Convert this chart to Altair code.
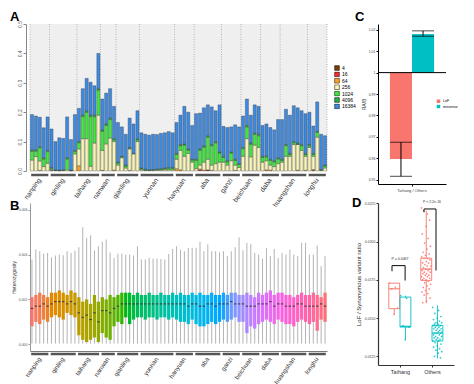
import math
import altair as alt
import pandas as pd

GROUPS = ["nanping", "qinling", "taihang", "nanwan", "qianling", "yunnan",
          "hanyuan", "aba", "ganzi", "beichuan", "daba", "huangshan", "longhu"]

# ---------------- Panel A : stacked proportions per individual ----------------
A_TOTAL = {
    "nanping": [0.192, 0.187, 0.183, 0.147, 0.184],
    "qinling": [0.143, 0.100, 0.113, 0.111, 0.184, 0.107, 0.192],
    "taihang": [0.213, 0.280, 0.315, 0.302, 0.290, 0.400],
    "nanwan": [0.245, 0.265, 0.280, 0.220],
    "qianling": [0.165, 0.150, 0.125, 0.180, 0.160, 0.205],
    "yunnan": [0.130, 0.125, 0.122, 0.125, 0.124, 0.128, 0.130, 0.134, 0.130],
    "hanyuan": [0.165, 0.190, 0.220, 0.200, 0.155],
    "aba": [0.195, 0.197, 0.215, 0.225, 0.218, 0.205, 0.225],
    "ganzi": [0.152, 0.148, 0.150, 0.157, 0.150],
    "beichuan": [0.187, 0.245, 0.190, 0.225, 0.220],
    "daba": [0.155, 0.160, 0.148, 0.140, 0.175],
    "huangshan": [0.175, 0.210, 0.190, 0.222, 0.215, 0.205, 0.195],
    "longhu": [0.200, 0.153, 0.235, 0.125, 0.120],
}
A_GREEN = {  # top of the 4096 layer
    "nanping": [0.071, 0.072, 0.083, 0.045, 0.070],
    "qinling": [0.012, 0.004, 0.003, 0.004, 0.045, 0.003, 0.070],
    "taihang": [0.100, 0.190, 0.205, 0.190, 0.190, 0.280],
    "nanwan": [0.140, 0.160, 0.180, 0.110],
    "qianling": [0.030, 0.050, 0.020, 0.080, 0.060, 0.110],
    "yunnan": [0.010, 0.006, 0.004, 0.005, 0.006, 0.008, 0.010, 0.012, 0.012],
    "hanyuan": [0.060, 0.090, 0.092, 0.075, 0.040],
    "aba": [0.040, 0.075, 0.085, 0.120, 0.090, 0.100, 0.065],
    "ganzi": [0.050, 0.035, 0.065, 0.040, 0.025],
    "beichuan": [0.080, 0.155, 0.095, 0.130, 0.125],
    "daba": [0.050, 0.052, 0.040, 0.035, 0.045],
    "huangshan": [0.040, 0.090, 0.060, 0.100, 0.095, 0.090, 0.060],
    "longhu": [0.090, 0.060, 0.135, 0.005, 0.020],
}
A_YELLOW = {  # top of the 256 layer
    "nanping": [0.037, 0.049, 0.034, 0.015, 0.026],
    "qinling": [0.004, 0.002, 0.001, 0.002, 0.004, 0.001, 0.058],
    "taihang": [0.075, 0.110, 0.110, 0.016, 0.095, 0.190],
    "nanwan": [0.070, 0.092, 0.112, 0.100],
    "qianling": [0.020, 0.045, 0.010, 0.075, 0.058, 0.100],
    "yunnan": [0.004, 0.002, 0.002, 0.002, 0.003, 0.003, 0.004, 0.004, 0.004],
    "hanyuan": [0.040, 0.070, 0.050, 0.060, 0.030],
    "aba": [0.008, 0.020, 0.030, 0.040, 0.020, 0.025, 0.030],
    "ganzi": [0.030, 0.020, 0.035, 0.020, 0.012],
    "beichuan": [0.050, 0.110, 0.048, 0.088, 0.080],
    "daba": [0.030, 0.035, 0.020, 0.015, 0.025],
    "huangshan": [0.030, 0.050, 0.050, 0.090, 0.090, 0.070, 0.050],
    "longhu": [0.080, 0.050, 0.115, 0.002, 0.010],
}
A_S4096 = {
    "nanping": [0.004, 0.004, 0.004, 0.004, 0.004],
    "qinling": [0.003, 0.001, 0.001, 0.001, 0.004, 0.001, 0.004],
    "taihang": [0.004, 0.005, 0.005, 0.005, 0.005, 0.005],
    "nanwan": [0.005, 0.005, 0.005, 0.004],
    "qianling": [0.003, 0.002, 0.003, 0.003, 0.002, 0.004],
    "yunnan": [0.002, 0.002, 0.001, 0.001, 0.001, 0.002, 0.002, 0.003, 0.003],
    "hanyuan": [0.004, 0.004, 0.004, 0.004, 0.003],
    "aba": [0.004, 0.004, 0.004, 0.005, 0.004, 0.004, 0.004],
    "ganzi": [0.004, 0.004, 0.004, 0.004, 0.003],
    "beichuan": [0.004, 0.005, 0.004, 0.005, 0.005],
    "daba": [0.004, 0.004, 0.004, 0.004, 0.004],
    "huangshan": [0.004, 0.004, 0.004, 0.004, 0.004, 0.004, 0.004],
    "longhu": [0.004, 0.004, 0.004, 0.001, 0.003],
}
A_S64 = {
    "nanping": [0, 0, 0.002, 0, 0],
    "qinling": [0, 0, 0, 0, 0, 0, 0],
    "taihang": [0.018, 0, 0, 0, 0, 0],
    "nanwan": [0, 0, 0, 0.003],
    "qianling": [0, 0, 0, 0.002, 0, 0],
    "yunnan": [0, 0, 0, 0, 0, 0, 0, 0, 0],
    "hanyuan": [0.008, 0.004, 0, 0, 0],
    "aba": [0, 0.004, 0.003, 0, 0.002, 0, 0],
    "ganzi": [0, 0, 0, 0.002, 0],
    "beichuan": [0, 0, 0, 0, 0],
    "daba": [0, 0.004, 0.003, 0, 0],
    "huangshan": [0, 0, 0, 0, 0.003, 0, 0.002],
    "longhu": [0, 0.003, 0, 0, 0],
}
A_S16 = {
    "nanping": [0, 0, 0, 0, 0],
    "qinling": [0, 0, 0, 0, 0, 0, 0],
    "taihang": [0, 0, 0, 0, 0, 0],
    "nanwan": [0, 0, 0, 0],
    "qianling": [0, 0, 0, 0, 0, 0],
    "yunnan": [0, 0, 0, 0, 0, 0, 0, 0, 0],
    "hanyuan": [0, 0, 0, 0, 0],
    "aba": [0, 0.003, 0, 0.002, 0, 0, 0],
    "ganzi": [0, 0, 0, 0, 0],
    "beichuan": [0, 0, 0, 0, 0],
    "daba": [0, 0, 0, 0, 0],
    "huangshan": [0, 0, 0, 0, 0, 0, 0],
    "longhu": [0, 0, 0, 0, 0],
}
A_S4 = {
    "nanping": [0, 0, 0, 0, 0],
    "qinling": [0.002, 0, 0, 0, 0, 0, 0],
    "taihang": [0, 0, 0, 0, 0, 0],
    "nanwan": [0.002, 0, 0, 0],
    "qianling": [0, 0, 0, 0, 0, 0],
    "yunnan": [0, 0, 0, 0, 0, 0, 0, 0, 0],
    "hanyuan": [0, 0, 0, 0, 0],
    "aba": [0, 0, 0, 0.002, 0, 0, 0],
    "ganzi": [0, 0, 0, 0, 0],
    "beichuan": [0, 0, 0, 0, 0],
    "daba": [0, 0, 0, 0, 0],
    "huangshan": [0, 0, 0, 0, 0, 0, 0],
    "longhu": [0, 0.002, 0, 0, 0],
}
CLASSES = ["4", "16", "64", "256", "1024", "4096", "16384"]
CLASS_COLORS = ["#7B3F00", "#F03030", "#FFA020", "#F8F4B8", "#3FE83F", "#22B244", "#3D8AE2"]

# ---------------- Panel B : heterozygosity boxes per individual ----------------
B_HI = {
    "nanping": [0.00378, 0.00422, 0.00415, 0.00404, 0.00407],
    "qinling": [0.00388, 0.00396, 0.00400, 0.00397, 0.00415, 0.00407, 0.00418],
    "taihang": [0.00433, 0.00522, 0.00475, 0.00486, 0.00418, 0.00437],
    "nanwan": [0.00457, 0.00467, 0.00410, 0.00385],
    "qianling": [0.00404, 0.00404, 0.00400, 0.00400, 0.00396, 0.00437],
    "yunnan": [0.00378, 0.00378, 0.00385, 0.00382, 0.00382, 0.00380, 0.00378, 0.00403, 0.00425],
    "hanyuan": [0.00437, 0.00422, 0.00415, 0.00430, 0.00430],
    "aba": [0.00430, 0.00457, 0.00415, 0.00445, 0.00415, 0.00415, 0.00410],
    "ganzi": [0.00415, 0.00393, 0.00415, 0.00433, 0.00477],
    "beichuan": [0.00419, 0.00452, 0.00448, 0.00407, 0.00400],
    "daba": [0.00382, 0.00430, 0.00393, 0.00425, 0.00385],
    "huangshan": [0.00407, 0.00400, 0.00422, 0.00400, 0.00393, 0.00452, 0.00452],
    "longhu": [0.00400, 0.00400, 0.00440, 0.00348, 0.00393],
}
B_Q3 = {
    "nanping": [0.0021, 0.0022, 0.0023, 0.0022, 0.0021],
    "qinling": [0.0023, 0.0023, 0.0024, 0.0023, 0.0022, 0.0024, 0.0023],
    "taihang": [0.0021, 0.0019, 0.0020, 0.0018, 0.0022, 0.0019],
    "nanwan": [0.0021, 0.0020, 0.0022, 0.0021],
    "qianling": [0.0022, 0.0023, 0.0023, 0.0023, 0.0022, 0.0023],
    "yunnan": [0.0022, 0.0022, 0.0023, 0.0022, 0.0022, 0.0023, 0.0022, 0.0022, 0.0023],
    "hanyuan": [0.0022, 0.0023, 0.0022, 0.0022, 0.0023],
    "aba": [0.0022, 0.0023, 0.0022, 0.0022, 0.0023, 0.0022, 0.0022],
    "ganzi": [0.0023, 0.0022, 0.0023, 0.0023, 0.0022],
    "beichuan": [0.0022, 0.0023, 0.0022, 0.0021, 0.0023],
    "daba": [0.0022, 0.0023, 0.0024, 0.0022, 0.0023],
    "huangshan": [0.0023, 0.0022, 0.0022, 0.0021, 0.0022, 0.0023, 0.0022],
    "longhu": [0.0022, 0.0023, 0.0022, 0.0021, 0.0023],
}
B_MED = {
    "nanping": [0.0016, 0.0017, 0.0017, 0.0018, 0.0017],
    "qinling": [0.0018, 0.0019, 0.0019, 0.0019, 0.0018, 0.0019, 0.0018],
    "taihang": [0.0014, 0.0012, 0.0013, 0.0011, 0.0014, 0.0010],
    "nanwan": [0.0015, 0.0015, 0.0014, 0.0016],
    "qianling": [0.0017, 0.0018, 0.0018, 0.0018, 0.0018, 0.0018],
    "yunnan": [0.0018, 0.0018, 0.0018, 0.0018, 0.0018, 0.0018, 0.0018, 0.0018, 0.0018],
    "hanyuan": [0.0018, 0.0018, 0.0018, 0.0017, 0.0018],
    "aba": [0.0018, 0.0017, 0.0017, 0.0018, 0.0018, 0.0017, 0.0018],
    "ganzi": [0.0018, 0.0018, 0.0019, 0.0018, 0.0018],
    "beichuan": [0.0018, 0.0017, 0.0017, 0.0017, 0.0018],
    "daba": [0.0018, 0.0018, 0.0019, 0.0017, 0.0018],
    "huangshan": [0.0018, 0.0017, 0.0017, 0.0017, 0.0018, 0.0018, 0.0017],
    "longhu": [0.0017, 0.0017, 0.0017, 0.0018, 0.0017],
}
B_Q1 = {
    "nanping": [0.0008, 0.0010, 0.0009, 0.0011, 0.0010],
    "qinling": [0.0012, 0.0013, 0.0012, 0.0011, 0.0014, 0.0013, 0.0012],
    "taihang": [0.0004, 0.0002, 0.0001, 0.0002, 0.0003, 0.0001],
    "nanwan": [0.0005, 0.0003, 0.0002, 0.0008],
    "qianling": [0.0010, 0.0009, 0.0012, 0.0009, 0.0011, 0.0012],
    "yunnan": [0.0012, 0.0011, 0.0012, 0.0012, 0.0011, 0.0012, 0.0012, 0.0011, 0.0012],
    "hanyuan": [0.0011, 0.0010, 0.0010, 0.0009, 0.0011],
    "aba": [0.0009, 0.0008, 0.0008, 0.0009, 0.0010, 0.0009, 0.0010],
    "ganzi": [0.0011, 0.0010, 0.0011, 0.0012, 0.0010],
    "beichuan": [0.0010, 0.0005, 0.0008, 0.0007, 0.0009],
    "daba": [0.0010, 0.0011, 0.0010, 0.0009, 0.0011],
    "huangshan": [0.0010, 0.0009, 0.0009, 0.0008, 0.0010, 0.0011, 0.0010],
    "longhu": [0.0009, 0.0010, 0.0006, 0.0011, 0.0010],
}
B_LO = 0.00003

# ---------------- Panel C : RA/B ----------------
C_TYPES = ["LoF", "missense"]
C_VALUE = [0.9597, 1.0180]
C_LOW = [0.9516, 1.0170]
C_HIGH = [0.9675, 1.0195]

# ---------------- Panel D : LoF / synonymous ratio ----------------
D_CATS = ["Taihang", "Others"]
D_TYPES = ["non-homozygous", "homozygous"]
D_BOX = {  # (lo, q1, median, q3, hi)
    ("Taihang", "non-homozygous"): [0.01524, 0.01561, 0.01691, 0.01728, 0.01728],
    ("Taihang", "homozygous"): [0.01359, 0.01441, 0.01446, 0.01637, 0.01646],
    ("Others", "non-homozygous"): [0.01598, 0.01746, 0.01820, 0.01891, 0.02202],
    ("Others", "homozygous"): [0.01235, 0.01350, 0.01402, 0.01452, 0.01583],
}
D_POINTS = {
    ("Taihang", "non-homozygous"): [0.01728, 0.01700, 0.01690, 0.01565, 0.01524],
    ("Taihang", "homozygous"): [0.01646, 0.01630, 0.01450, 0.01440, 0.01359],
    ("Others", "non-homozygous"): [
        0.0222, 0.0218, 0.0220, 0.0214, 0.0210, 0.0205, 0.0202, 0.0199, 0.0197, 0.0195,
        0.0193, 0.0192, 0.0191, 0.0190, 0.0189, 0.0189, 0.0188, 0.0187, 0.0186, 0.0186,
        0.0185, 0.0184, 0.0184, 0.0183, 0.0182, 0.0182, 0.0181, 0.0181, 0.0180, 0.0180,
        0.0179, 0.0179, 0.0178, 0.0178, 0.0177, 0.0177, 0.0176, 0.0176, 0.0175, 0.0175,
        0.0174, 0.0173, 0.0172, 0.0171, 0.0170, 0.0169, 0.0168, 0.0167, 0.0166, 0.0165,
        0.0163, 0.0161, 0.0160],
    ("Others", "homozygous"): [
        0.0157, 0.0155, 0.0153, 0.0151, 0.0150, 0.0149, 0.0148, 0.0147, 0.0147, 0.0146,
        0.0146, 0.0145, 0.0145, 0.0145, 0.0144, 0.0144, 0.0143, 0.0143, 0.0143, 0.0142,
        0.0142, 0.0141, 0.0141, 0.0140, 0.0140, 0.0140, 0.0139, 0.0139, 0.0138, 0.0138,
        0.0137, 0.0137, 0.0136, 0.0136, 0.0135, 0.0135, 0.0134, 0.0133, 0.0132, 0.0131,
        0.0130, 0.0129, 0.0128, 0.0127, 0.0125, 0.0124],
}
D_SIG = [("P = 0.0467", 1, 0.01843), ("P < 2.2e-16", 2, 0.02213)]

PAL2 = ["#F8766D", "#00BFC4"]
FONT = "Liberation Sans"


def hcl_hex(h, c=100.0, l=65.0):
    hr = math.radians(h)
    U, V = c * math.cos(hr), c * math.sin(hr)
    Xn, Yn, Zn = 95.047, 100.0, 108.883
    Y = Yn * ((l + 16) / 116) ** 3 if l > 8 else Yn * l / 903.3
    den = Xn + 15 * Yn + 3 * Zn
    un, vn = 4 * Xn / den, 9 * Yn / den
    u, v = U / (13 * l) + un, V / (13 * l) + vn
    X = 9.0 * Y * u / (4 * v)
    Z = -X / 3 - 5 * Y + 3 * Y / v
    X, Y, Z = X / 100, Y / 100, Z / 100
    rgb = [3.240479 * X - 1.537150 * Y - 0.498535 * Z,
           -0.969256 * X + 1.875992 * Y + 0.041556 * Z,
           0.055648 * X - 0.204043 * Y + 1.057311 * Z]
    out = []
    for ch in rgb:
        ch = 1.055 * ch ** (1 / 2.4) - 0.055 if ch > 0.0031308 else 12.92 * ch
        out.append(int(round(min(1, max(0, ch)) * 255)))
    return "#%02x%02x%02x" % tuple(out)


# ---------------- build tables ----------------
a_rows, b_rows, grp_rows = [], [], []
i = 0
for g in GROUPS:
    start = i
    for k in range(len(A_TOTAL[g])):
        s4, s16, s64 = A_S4[g][k], A_S16[g][k], A_S64[g][k]
        s256 = A_YELLOW[g][k] - s4 - s16 - s64
        s4096 = A_S4096[g][k]
        s1024 = max(0.0, A_GREEN[g][k] - A_YELLOW[g][k] - s4096)
        s16384 = A_TOTAL[g][k] - A_GREEN[g][k]
        base = 0.0
        for cls, h in zip(CLASSES, [s4, s16, s64, s256, s1024, s4096, s16384]):
            if h > 0:
                a_rows.append(dict(x0=i + 0.1, x1=i + 0.9, y0=base, y1=base + h, cls=cls))
                base += h
        b_rows.append(dict(idx=i, x0=i + 0.08, x1=i + 0.92, xm=i + 0.5, xa=i + 0.2, xb=i + 0.8,
                           lo=B_LO, q1=B_Q1[g][k], med=B_MED[g][k], q3=B_Q3[g][k], hi=B_HI[g][k]))
        i += 1
    grp_rows.append(dict(g=g, s=start + 0.3, e=i - 0.3, c=(start + i) / 2, b=start))
N = i
a_df = pd.DataFrame(a_rows)
b_df = pd.DataFrame(b_rows)
grp_df = pd.DataFrame(grp_rows)
sep_df = pd.DataFrame({"b": list(grp_df["b"]) + [N]})
HUES = [hcl_hex(15 + 360 * k / N) for k in range(N)]

WL, HA, HB = 297, 147, 148
WC, HC = 68, 160
WD, HD = 76, 162


def letter(t, x, y):
    return alt.Chart(pd.DataFrame({"t": [t]})).mark_text(
        fontSize=13, fontWeight="bold", align="left", baseline="top", color="black"
    ).encode(text="t:N", x=alt.value(x), y=alt.value(y))


# ---------------- Panel A ----------------
xA = alt.Scale(domain=[0, N], nice=False, zero=False)
yA = alt.Scale(domain=[0, 0.5], nice=False, zero=False)
axA = alt.Axis(values=[0, 0.1, 0.2, 0.3, 0.4, 0.5], format=".1f", labelAngle=270,
               labelAlign="center", labelBaseline="bottom", labelFontSize=5, labelColor="#555",
               tickSize=3, tickColor="#888", domainColor="#888", grid=False, title=None,
               offset=4, labelPadding=1)
bgA = alt.Chart(pd.DataFrame({"x0": [0], "x1": [N], "y0": [0.0], "y1": [0.5]})).mark_rect(
    color="#EFEFEF").encode(x=alt.X("x0:Q", scale=xA, axis=None), x2="x1:Q",
                            y=alt.Y("y0:Q", scale=yA, axis=axA), y2="y1:Q")
sepA = alt.Chart(sep_df).mark_rule(color="#9A9A9A", strokeDash=[1, 1.5], strokeWidth=0.7).encode(
    x=alt.X("b:Q", scale=xA, axis=None))
barsA = alt.Chart(a_df).mark_rect(stroke="#333333", strokeWidth=0.35).encode(
    x=alt.X("x0:Q", scale=xA, axis=None), x2="x1:Q",
    y=alt.Y("y0:Q", scale=yA, axis=axA), y2="y1:Q",
    color=alt.Color("cls:N", scale=alt.Scale(domain=CLASSES, range=CLASS_COLORS),
                    legend=alt.Legend(orient="none", legendX=304, legendY=41, title=None,
                                      labelFontSize=5, symbolType="square", symbolSize=22,
                                      symbolStrokeColor="black", symbolStrokeWidth=0.5,
                                      rowPadding=0.4, clipHeight=6, labelOffset=2)))
ulA = alt.Chart(grp_df).mark_rule(color="#555555", strokeWidth=2.5).encode(
    x=alt.X("s:Q", scale=xA, axis=None), x2="e:Q", y=alt.value(HA + 4))
lbA = alt.Chart(grp_df).mark_text(angle=305, align="right", baseline="middle", fontSize=6.8,
                                  color="#333333").encode(
    x=alt.X("c:Q", scale=xA, axis=None), y=alt.value(HA + 8), text="g:N")
A = alt.layer(bgA, sepA, barsA, ulA, lbA, letter("A", -20, -13)).properties(width=WL, height=HA)

# ---------------- Panel B ----------------
xB = alt.Scale(domain=[0, N], nice=False, zero=False)
yB = alt.Scale(domain=[-0.0003, 0.0063], nice=False, zero=False)
axBx = alt.Axis(labels=False, ticks=False, title=None, domainColor="#777", grid=False)
axBy = alt.Axis(values=[0, 0.002, 0.004, 0.006], format=".3f", labelFontSize=3.5,
                labelColor="#555", title="Heterozygosity", titleFontSize=5,
                titleFontWeight="normal", titleColor="#333", domainColor="#999",
                tickColor="#999", tickSize=2, grid=False, labelPadding=1, titlePadding=2)
whB = alt.Chart(b_df).mark_rule(color="#A0A0A0", strokeWidth=0.8).encode(
    x=alt.X("xm:Q", scale=xB, axis=axBx), y=alt.Y("lo:Q", scale=yB, axis=axBy), y2="hi:Q")
boxB = alt.Chart(b_df).mark_rect().encode(
    x=alt.X("x0:Q", scale=xB, axis=axBx), x2="x1:Q",
    y=alt.Y("q1:Q", scale=yB, axis=axBy), y2="q3:Q",
    color=alt.Color("idx:O", scale=alt.Scale(domain=list(range(N)), range=HUES), legend=None))
medB = alt.Chart(b_df).mark_rule(color="#333333", strokeWidth=1).encode(
    x=alt.X("xa:Q", scale=xB, axis=axBx), x2="xb:Q", y=alt.Y("med:Q", scale=yB, axis=axBy))
ulB = alt.Chart(grp_df).mark_rule(color="#555555", strokeWidth=2.5).encode(
    x=alt.X("s:Q", scale=xB, axis=axBx), x2="e:Q", y=alt.value(HB + 3))
lbB = alt.Chart(grp_df).mark_text(angle=305, align="right", baseline="middle", fontSize=6.3,
                                  color="#333333").encode(
    x=alt.X("c:Q", scale=xB, axis=axBx), y=alt.value(HB + 7), text="g:N")
B = alt.layer(whB, boxB, medB, ulB, lbB, letter("B", -20, -3)).properties(width=WL, height=HB)

# ---------------- Panel C ----------------
c_df = pd.DataFrame({"type": C_TYPES, "cmp": "Taihang / Others", "value": C_VALUE,
                     "lo": C_LOW, "hi": C_HIGH, "base": 1.0})
cap_df = pd.concat([c_df.assign(cap=c_df["lo"]), c_df.assign(cap=c_df["hi"])])
xC = alt.Scale(paddingOuter=0.27, paddingInner=0)
xoC = alt.Scale(domain=C_TYPES, paddingInner=0, paddingOuter=0)
yC = alt.Scale(domain=[0.948, 1.0227], nice=False, zero=False)
axCx = alt.Axis(title=None, labelAngle=0, labelFontSize=4, labelColor="#444",
                domainColor="black", tickColor="black", tickSize=2, grid=False)
axCy = alt.Axis(values=[0.95, 0.96, 0.97, 0.98, 0.99, 1.0, 1.01, 1.02],
                labelExpr="datum.value == 1 ? '1' : format(datum.value, '.2f')",
                labelFontSize=3.5, labelColor="#444", title="RA/B", titleFontSize=5,
                titleFontWeight="normal", titleColor="#222", domainColor="black",
                tickColor="black", tickSize=2, grid=False, labelPadding=1, titlePadding=2)
barC = alt.Chart(c_df).mark_bar().encode(
    x=alt.X("cmp:N", scale=xC, axis=axCx), xOffset=alt.XOffset("type:N", scale=xoC),
    y=alt.Y("value:Q", scale=yC, axis=axCy), y2="base:Q",
    color=alt.Color("type:N", scale=alt.Scale(domain=C_TYPES, range=PAL2),
                    legend=alt.Legend(orient="none", legendX=58, legendY=75, title=None,
                                      labelFontSize=3.5, symbolType="square", symbolSize=12,
                                      rowPadding=0.3, clipHeight=4.5, labelOffset=2)))
errC = alt.Chart(c_df).mark_rule(color="black", strokeWidth=1).encode(
    x=alt.X("cmp:N", scale=xC, axis=axCx), xOffset=alt.XOffset("type:N", scale=xoC),
    y=alt.Y("lo:Q", scale=yC, axis=axCy), y2="hi:Q")
capC = alt.Chart(cap_df).mark_tick(color="black", thickness=1, size=22).encode(
    x=alt.X("cmp:N", scale=xC, axis=axCx), xOffset=alt.XOffset("type:N", scale=xoC),
    y=alt.Y("cap:Q", scale=yC, axis=axCy))
oneC = alt.Chart(c_df.head(1)).mark_rule(color="black", strokeWidth=1).encode(
    y=alt.Y("base:Q", scale=yC, axis=axCy))
C = alt.layer(barC, errC, capC, oneC, letter("C", -23, -13)).properties(width=WC, height=HC)

# ---------------- Panel D ----------------
OFF = {"non-homozygous": -0.18, "homozygous": 0.17}
box_rows, pt_rows = [], []
for (cat, typ), (lo, q1, med, q3, hi) in D_BOX.items():
    pos = D_CATS.index(cat) + 1 + OFF[typ]
    box_rows.append(dict(cat=cat, type=typ, xm=pos, xl=pos - 0.17, xr=pos + 0.17,
                         lo=lo, q1=q1, med=med, q3=q3, hi=hi))
for (cat, typ), vals in D_POINTS.items():
    pos = D_CATS.index(cat) + 1 + OFF[typ]
    for j, v in enumerate(vals):
        jit = ((j * 0.6180339) % 1 - 0.5) * 0.3
        pt_rows.append(dict(cat=cat, type=typ, px=pos + jit, val=v))
box_df = pd.DataFrame(box_rows)
pt_df = pd.DataFrame(pt_rows)
sig_rows = []
for txt, c, yv in D_SIG:
    sig_rows.append(dict(tx=c + 0.0, ty=yv + 0.0003, t=txt))
sig_df = pd.DataFrame(sig_rows)
br_df = pd.DataFrame({
    "x": [0.75, 0.75, 1.16, 1.75, 1.75, 2.125],
    "x2": [1.16, 0.75, 1.16, 2.125, 1.75, 2.125],
    "y": [0.01843, 0.01806, 0.01746, 0.02213, 0.02191, 0.01811],
    "y2": [0.01843, 0.01843, 0.01843, 0.02213, 0.02213, 0.02213],
})
xD = alt.Scale(domain=[0.3125, 2.6875], nice=False, zero=False)
yD = alt.Scale(domain=[0.01193, 0.02252], nice=False, zero=False)
axDx = alt.Axis(values=[1, 2], labelExpr="datum.value == 1 ? 'Taihang' : 'Others'",
                labelFontSize=5.5, labelColor="#333", title=None, domainColor="#333",
                domainWidth=1.2, tickColor="#333", tickSize=2, grid=False)
axDy = alt.Axis(values=[0.0125, 0.015, 0.0175, 0.02, 0.0225], format=".4f", labelFontSize=3.5,
                labelColor="#444", title="LoF / Synonymous variant ratio", titleFontSize=6,
                titleFontWeight="normal", titleColor="#222", domainColor="#333",
                domainWidth=1.2, tickColor="#333", tickSize=2, grid=False, labelPadding=1,
                titlePadding=3)
strokeD = alt.Stroke("type:N", scale=alt.Scale(domain=D_TYPES, range=PAL2), legend=None)
wh1 = alt.Chart(box_df).mark_rule(strokeWidth=0.9).encode(
    x=alt.X("xm:Q", scale=xD, axis=axDx), y=alt.Y("lo:Q", scale=yD, axis=axDy), y2="q1:Q",
    stroke=strokeD)
wh2 = alt.Chart(box_df).mark_rule(strokeWidth=0.9).encode(
    x=alt.X("xm:Q", scale=xD, axis=axDx), y=alt.Y("q3:Q", scale=yD, axis=axDy), y2="hi:Q",
    stroke=strokeD)
boxD = alt.Chart(box_df).mark_rect(fillOpacity=0, strokeWidth=0.9).encode(
    x=alt.X("xl:Q", scale=xD, axis=axDx), x2="xr:Q",
    y=alt.Y("q1:Q", scale=yD, axis=axDy), y2="q3:Q", stroke=strokeD)
medD = alt.Chart(box_df).mark_rule(strokeWidth=1.1).encode(
    x=alt.X("xl:Q", scale=xD, axis=axDx), x2="xr:Q", y=alt.Y("med:Q", scale=yD, axis=axDy),
    stroke=strokeD)
ptD = alt.Chart(pt_df).mark_circle(size=3, opacity=0.85).encode(
    x=alt.X("px:Q", scale=xD, axis=axDx), y=alt.Y("val:Q", scale=yD, axis=axDy),
    color=alt.Color("type:N", scale=alt.Scale(domain=D_TYPES, range=PAL2),
                    legend=alt.Legend(orient="none", legendX=64, legendY=79, title=None,
                                      labelFontSize=3.5, symbolType="square", symbolSize=12,
                                      rowPadding=0.5, clipHeight=5, labelOffset=2)))
brD = alt.Chart(br_df).mark_rule(color="#222222", strokeWidth=1.1).encode(
    x=alt.X("x:Q", scale=xD, axis=axDx), x2="x2:Q",
    y=alt.Y("y:Q", scale=yD, axis=axDy), y2="y2:Q")
sgD = alt.Chart(sig_df).mark_text(fontSize=3.5, color="#333", baseline="bottom").encode(
    x=alt.X("tx:Q", scale=xD, axis=axDx), y=alt.Y("ty:Q", scale=yD, axis=axDy), text="t:N")
D = alt.layer(wh1, wh2, boxD, medD, ptD, brD, sgD, letter("D", -26, -6)).properties(
    width=WD, height=HD)

chart = alt.concat(A, C, B, D, columns=2, spacing={"row": 17, "column": 51},
                   bounds="flush", align="all").resolve_scale(
    color="independent", stroke="independent", x="independent", y="independent"
).properties(padding={"left": 2, "top": 3, "right": 2, "bottom": 0}).configure(
    font=FONT).configure_view(stroke=None)

chart.save("out.html", embed_options={"renderer": "svg", "actions": False})
